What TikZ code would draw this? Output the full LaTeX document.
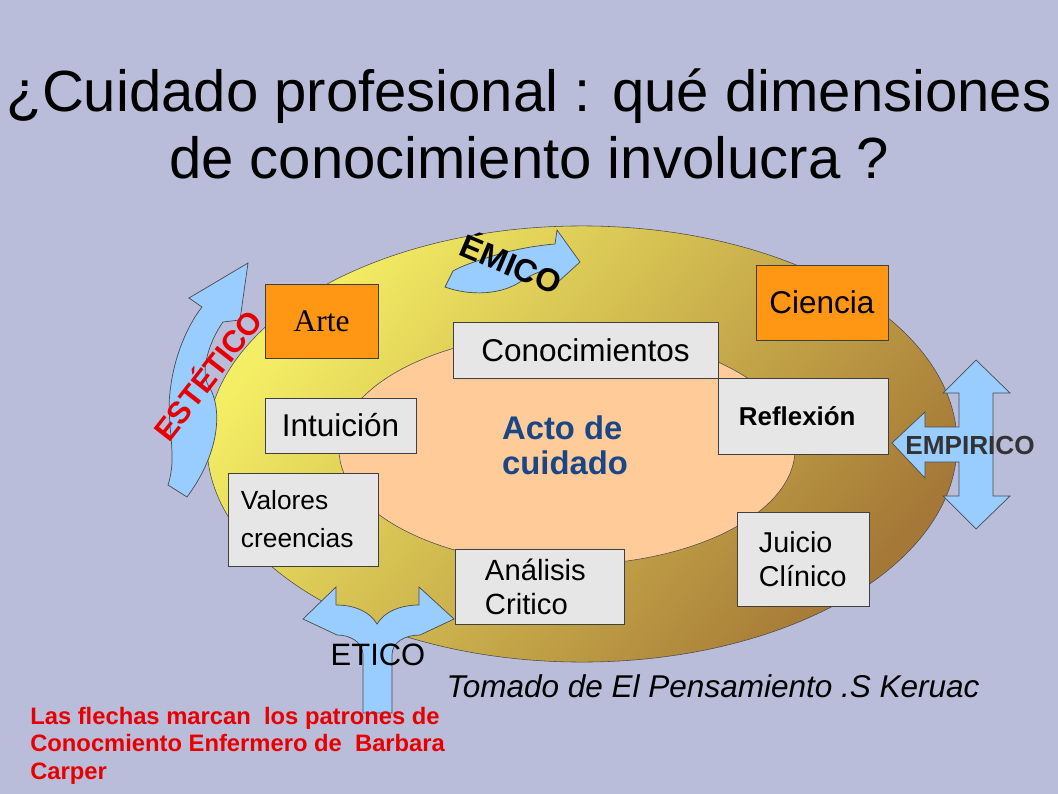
\documentclass[tikz,border=0pt]{standalone}
\usepackage{fontspec}
\setmainfont{Liberation Sans}
\newfontfamily\artefont{Liberation Serif}
\definecolor{fondo}{RGB}{185,189,217}
\definecolor{cajagris}{RGB}{230,230,230}
\definecolor{naranja}{RGB}{255,150,20}
\definecolor{melocoton}{RGB}{255,204,153}
\definecolor{flechazul}{RGB}{153,204,255}
\definecolor{actoazul}{RGB}{25,70,135}
\definecolor{rojo}{RGB}{232,0,0}
\definecolor{amarillo}{RGB}{244,238,100}
\definecolor{marron}{RGB}{165,120,55}
\begin{document}
\begin{tikzpicture}[x=0.025cm,y=-0.025cm,
    caja/.style={draw=black!75,fill=cajagris,inner sep=0pt,font=\fontsize{22.4}{27}\selectfont},
    flecha/.style={draw=black!70,fill=flechazul,line width=0.5pt}]
  \fill[fondo] (0,0) rectangle (1058,794);
  \useasboundingbox (0,0) rectangle (1058,794);
  \node[align=center,font=\fontsize{41.3}{48}\selectfont] (titulo) at (529,124) {¿Cuidado profesional : qué dimensiones\\de conocimiento involucra ?};
  \draw[black!70,left color=amarillo,right color=marron,shading angle=50] (582,444) ellipse (9.375cm and 5.45cm);
  \draw[black!70,fill=melocoton] (567,449) ellipse (5.7cm and 2.9cm);
  \draw[flecha] (168,485) .. controls (178,455) and (166,425) .. (170,392)
    .. controls (174,355) and (188,325) .. (202,307) -- (189,298) -- (248,263) -- (240,320) -- (223,322)
    .. controls (210,340) and (200,370) .. (208,385)
    .. controls (222,405) and (222,450) .. (187,497) -- cycle;
  \draw[flecha] (445,287) .. controls (470,296) and (500,295) .. (520,282)
    .. controls (535,272) and (545,270) .. (552,269) -- (558,282) -- (580,262) -- (557,230) -- (555,244)
    .. controls (520,247) and (495,255) .. (480,260)
    .. controls (468,264) and (460,267) .. (453,271) -- cycle;
  \draw[flecha] (363,713) -- (363,655) .. controls (363,642) and (350,635) .. (337,635) -- (303,619) -- (336,587) -- (336,605)
    .. controls (355,605) and (370,612) .. (377,624) .. controls (384,612) and (400,605) .. (419,605)
    -- (419,587) -- (454,619) -- (420,635) .. controls (405,635) and (392,642) .. (392,655) -- (392,713) -- cycle;
  \draw[flecha] (976,360) -- (1010,393) -- (993,393) -- (993,496) -- (1010,496) -- (976,529) -- (943,496) -- (959,496)
    -- (959,462) -- (925,462) -- (925,478) -- (892,443) -- (925,412) -- (925,427) -- (959,427) -- (959,393) -- (943,393) -- cycle;
  \node[caja,fill=naranja,minimum width=2.825cm,minimum height=1.85cm,font=\artefont\fontsize{22.4}{27}\selectfont] (arte) at (321.5,321) {Arte};
  \node[caja,fill=naranja,minimum width=3.3cm,minimum height=1.875cm] (ciencia) at (822,302.5) {Ciencia};
  \node[caja,minimum width=6.625cm,minimum height=1.4cm] (conoc) at (585.5,350) {Conocimientos};
  \node[caja,minimum width=4.25cm,minimum height=1.9cm,text width=3.2cm,align=left,font=\bfseries\fontsize{18.4}{22}\selectfont] (reflex) at (803,416) {Reflexión};
  \node[caja,minimum width=3.775cm,minimum height=1.375cm] (intuic) at (340.5,425.5) {Intuición};
  \node[caja,minimum width=3.75cm,minimum height=2.325cm,text width=3.1cm,align=left,font=\fontsize{18.7}{26.9}\selectfont] (valores) at (303,519.5) {Valores\\creencias};
  \node[caja,minimum width=4.225cm,minimum height=1.875cm,text width=2.725cm,align=left,font=\fontsize{20.8}{24.1}\selectfont] (analisis) at (539.5,587) {Análisis\\Critico};
  \node[caja,minimum width=3.3cm,minimum height=2.35cm,text width=2.2cm,align=left,font=\fontsize{20.4}{24.1}\selectfont] (juicio) at (803,559) {Juicio\\Clínico};
  \node[align=left,text=actoazul,font=\bfseries\fontsize{23.3}{24.8}\selectfont] (acto) at (565,445) {Acto de\\cuidado};
  \node[rotate=-23,font=\bfseries\fontsize{23}{26}\selectfont] (emico) at (512,262) {ÉMICO};
  \node[rotate=52,text=rojo,font=\bfseries\fontsize{22}{26}\selectfont] (estetico) at (206,374) {ESTÉTICO};
  \node[font=\fontsize{22}{26}\selectfont] (etico) at (378,655) {ETICO};
  \node[text=black!80,font=\bfseries\fontsize{18.6}{22}\selectfont] (empirico) at (970,445) {EMPIRICO};
  \node[font=\itshape\fontsize{22.4}{27}\selectfont] (fuente) at (713,686) {Tomado de El Pensamiento .S Keruac};
  \node[anchor=north west,align=left,inner sep=0pt,text=rojo,font=\bfseries\fontsize{16.9}{19.5}\selectfont] (nota) at (30,707) {Las flechas marcan\ \ los patrones de\\Conocmiento Enfermero de\ \ Barbara\\Carper};
\end{tikzpicture}
\end{document}
